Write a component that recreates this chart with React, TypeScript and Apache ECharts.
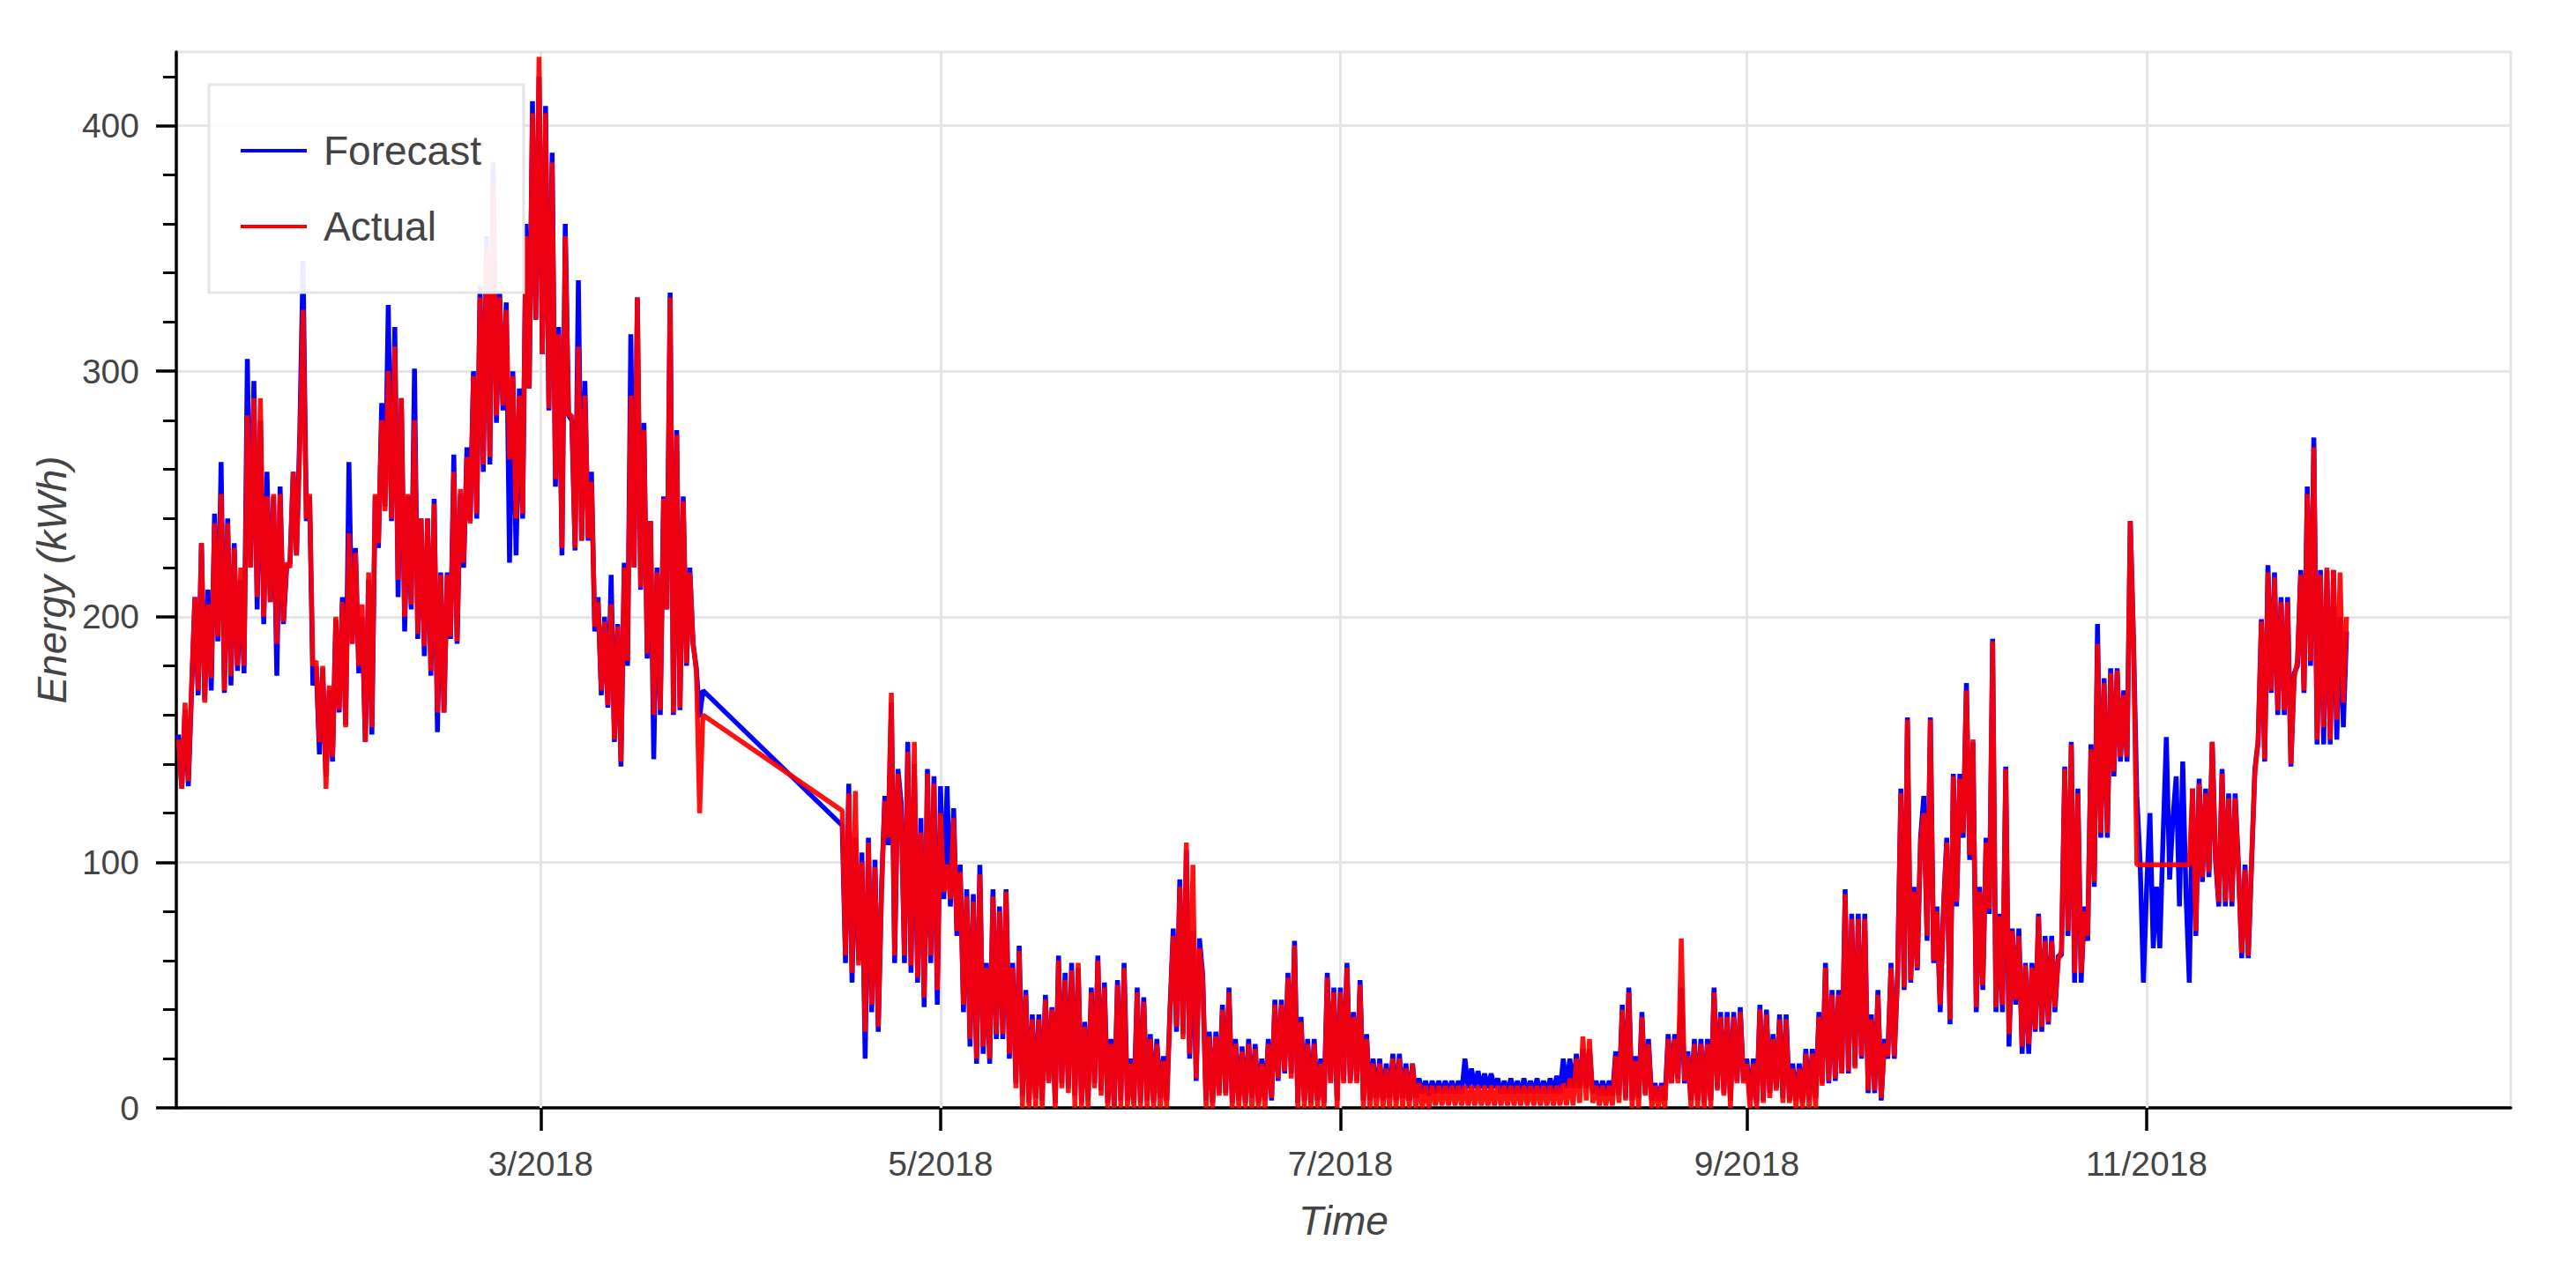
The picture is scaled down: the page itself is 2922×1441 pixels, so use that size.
import React, { useEffect, useRef } from "react";
import * as echarts from "echarts";

// ---- time layout of the readings (12-hourly readings) ----
const STEP_MS = 12 * 3600 * 1000;
const SEG1_START = Date.UTC(2018, 0, 4, 18); // first block: Jan 4 18:00 .. Mar 25 18:00
const SEG2_START = Date.UTC(2018, 3, 16, 0); // second block: Apr 16 00:00 .. Dec 2 12:00

// ---- Forecast, block 1 ----
const FORECAST_SEG1 = [
  152, 130, 162, 131, 170, 208, 168, 230, 166, 211,
  170, 242, 190, 263, 169, 240, 172, 230, 178, 215,
  177, 305, 220, 296, 203, 280, 197, 259, 206, 249,
  176, 253, 197, 220, 222, 259, 225, 275, 345, 239,
  249, 172, 180, 144, 179, 135, 170, 141, 199, 161,
  208, 156, 263, 189, 228, 177, 200, 149, 215, 152,
  249, 228, 287, 245, 327, 239, 318, 208, 289, 194,
  249, 203, 301, 191, 240, 184, 240, 176, 248, 153,
  218, 161, 218, 191, 266, 189, 250, 220, 269, 239,
  300, 240, 335, 259, 355, 262, 385, 279, 332, 284,
  328, 222, 300, 225, 293, 240, 360, 293, 410, 321,
  420, 307, 408, 284, 389, 253, 318, 225, 360, 282,
  280, 227, 337, 231, 296, 231, 259, 194, 208, 168,
  200, 163, 217, 149, 197, 139, 222, 180, 315, 220,
  330, 211, 279, 183, 239, 142, 220, 160, 249, 203,
  332, 160, 276, 162, 249, 180, 220, 189, 179, 159,
  170,
];

// ---- Actual, block 1 ----
const ACTUAL_SEG1 = [
  150, 130, 165, 133, 172, 208, 170, 230, 165, 205,
  175, 238, 192, 250, 170, 238, 176, 228, 180, 220,
  180, 282, 220, 289, 208, 289, 200, 249, 206, 250,
  189, 250, 198, 222, 220, 259, 225, 268, 325, 240,
  250, 180, 182, 149, 180, 130, 172, 143, 200, 162,
  206, 155, 234, 189, 226, 180, 205, 149, 218, 155,
  250, 230, 280, 243, 300, 240, 310, 215, 289, 200,
  250, 205, 280, 193, 240, 188, 240, 178, 246, 161,
  217, 161, 217, 192, 259, 190, 252, 222, 265, 238,
  298, 242, 330, 262, 350, 265, 375, 282, 330, 286,
  325, 264, 298, 240, 290, 242, 355, 293, 405, 321,
  428, 307, 405, 285, 385, 256, 315, 228, 355, 282,
  282, 228, 310, 231, 290, 232, 255, 196, 206, 170,
  198, 164, 205, 150, 196, 141, 220, 182, 290, 220,
  330, 212, 276, 185, 239, 160, 218, 162, 248, 203,
  330, 161, 274, 163, 247, 181, 218, 189, 178, 120,
  160,
];

// ---- Forecast, block 2 ----
const FORECAST_SEG2 = [
  115, 59, 132, 51, 110, 60, 104, 20, 110, 39,
  101, 31, 90, 127, 107, 165, 59, 138, 124, 59,
  149, 55, 140, 51, 118, 41, 138, 59, 135, 42,
  131, 85, 131, 82, 122, 70, 99, 39, 89, 25,
  87, 18, 99, 22, 59, 18, 89, 28, 82, 28,
  89, 20, 59, 10, 66, 5, 48, 2, 38, 4,
  38, 3, 46, 11, 41, 2, 62, 10, 55, 8,
  59, 5, 57, 2, 35, 3, 49, 10, 62, 7,
  51, 2, 28, 0, 52, 3, 59, 3, 20, 2,
  49, 2, 45, 3, 30, 2, 28, 4, 21, 3,
  40, 73, 31, 93, 30, 105, 20, 72, 11, 69,
  54, 3, 31, 2, 31, 6, 42, 6, 49, 2,
  28, 3, 25, 2, 28, 4, 26, 2, 20, 3,
  28, 3, 44, 11, 44, 14, 55, 14, 68, 2,
  37, 3, 28, 2, 28, 3, 20, 2, 55, 11,
  49, 3, 49, 11, 59, 11, 39, 11, 52, 3,
  30, 3, 20, 4, 20, 3, 18, 4, 22, 3,
  22, 4, 18, 3, 18, 4, 12, 6, 11, 5,
  11, 6, 11, 6, 11, 6, 11, 6, 11, 6,
  20, 8, 16, 8, 15, 8, 14, 8, 14, 8,
  12, 6, 11, 6, 12, 6, 11, 6, 12, 6,
  11, 6, 12, 6, 11, 6, 12, 6, 13, 6,
  20, 8, 20, 8, 22, 8, 24, 8, 24, 6,
  11, 5, 11, 5, 11, 5, 23, 5, 42, 4,
  49, 3, 21, 4, 39, 6, 28, 3, 10, 3,
  10, 3, 30, 10, 30, 12, 49, 10, 23, 3,
  28, 3, 28, 2, 28, 3, 49, 8, 39, 6,
  39, 3, 39, 11, 41, 11, 20, 3, 20, 2,
  42, 3, 40, 6, 30, 8, 38, 4, 38, 3,
  18, 3, 18, 2, 24, 3, 24, 4, 39, 10,
  59, 10, 48, 11, 48, 14, 89, 14, 79, 17,
  79, 20, 79, 6, 38, 6, 48, 3, 28, 20,
  59, 20, 55, 130, 48, 159, 51, 90, 56, 110,
  127, 68, 159, 59, 82, 39, 82, 110, 34, 136,
  82, 136, 110, 173, 101, 149, 39, 90, 48, 110,
  79, 191, 39, 79, 39, 139, 25, 73, 42, 73,
  22, 59, 22, 59, 31, 79, 31, 70, 34, 70,
  39, 62, 62, 139, 70, 149, 51, 130, 51, 82,
  68, 148, 90, 197, 110, 175, 110, 179, 135, 179,
  141, 170, 141, 239, 189, 127, 100, 51, 90, 120,
  65, 90, 65, 110, 151, 93, 118, 135, 82, 141,
  87, 51, 130, 70, 134, 92, 130, 94, 149, 101,
  82, 138, 82, 128, 82, 128, 99, 61, 99, 61,
  99, 138, 149, 199, 141, 221, 169, 218, 160, 208,
  160, 208, 139, 177, 180, 219, 169, 253, 180, 273,
  148, 219, 148, 219, 148, 219, 150, 200, 155, 194,
];

// ---- Actual, block 2 ----
const ACTUAL_SEG2 = [
  121, 62, 128, 55, 129, 58, 100, 31, 108, 42,
  98, 33, 88, 125, 110, 169, 62, 136, 118, 62,
  145, 58, 149, 53, 112, 45, 136, 62, 132, 48,
  120, 88, 99, 85, 118, 72, 96, 42, 86, 28,
  84, 20, 95, 25, 57, 20, 86, 30, 80, 30,
  88, 22, 57, 8, 64, 0, 46, 0, 36, 0,
  36, 0, 44, 10, 40, 0, 60, 8, 52, 6,
  56, 0, 59, 0, 33, 0, 47, 8, 60, 5,
  49, 0, 26, 0, 50, 0, 57, 0, 18, 0,
  47, 0, 43, 0, 28, 0, 26, 0, 19, 0,
  38, 70, 33, 90, 28, 108, 22, 99, 12, 65,
  52, 0, 29, 0, 29, 5, 40, 5, 47, 0,
  26, 0, 23, 0, 26, 0, 24, 0, 18, 0,
  26, 4, 42, 12, 42, 15, 53, 12, 66, 0,
  35, 0, 26, 0, 26, 0, 18, 0, 53, 10,
  47, 0, 47, 10, 57, 10, 37, 10, 50, 0,
  28, 0, 18, 0, 18, 0, 16, 0, 20, 0,
  20, 0, 16, 0, 18, 0, 10, 0, 9, 0,
  9, 1, 9, 1, 9, 1, 9, 1, 9, 1,
  9, 1, 9, 1, 9, 1, 9, 1, 9, 1,
  9, 1, 9, 1, 9, 1, 9, 1, 9, 1,
  9, 1, 9, 1, 9, 1, 9, 1, 9, 1,
  10, 1, 12, 1, 20, 2, 29, 3, 28, 2,
  9, 1, 9, 1, 9, 1, 21, 2, 40, 3,
  47, 0, 19, 0, 37, 5, 26, 0, 9, 0,
  9, 0, 28, 10, 28, 10, 69, 11, 21, 0,
  26, 0, 26, 0, 26, 0, 47, 7, 37, 5,
  37, 0, 37, 10, 39, 10, 18, 0, 18, 0,
  40, 2, 38, 4, 28, 7, 36, 2, 36, 2,
  16, 0, 16, 0, 22, 0, 22, 0, 37, 9,
  57, 11, 46, 12, 46, 14, 87, 15, 77, 16,
  77, 21, 77, 7, 36, 7, 46, 4, 26, 21,
  57, 21, 53, 128, 49, 158, 52, 88, 57, 108,
  120, 70, 158, 60, 80, 42, 80, 108, 36, 135,
  84, 134, 112, 170, 103, 150, 41, 88, 50, 108,
  81, 190, 41, 78, 42, 138, 30, 72, 44, 70,
  25, 58, 26, 57, 32, 78, 33, 68, 35, 68,
  41, 60, 64, 138, 72, 148, 55, 128, 55, 80,
  70, 146, 92, 189, 112, 173, 112, 177, 137, 178,
  143, 168, 143, 239, 189, 99, 99, 99, 99, 99,
  99, 99, 99, 99, 99, 99, 99, 99, 99, 99,
  99, 99, 130, 72, 132, 94, 128, 96, 149, 103,
  84, 136, 84, 126, 84, 126, 97, 63, 97, 62,
  101, 136, 150, 198, 142, 218, 170, 216, 162, 206,
  162, 206, 140, 175, 182, 217, 170, 250, 182, 269,
  150, 217, 155, 220, 150, 219, 158, 218, 165, 200,
];

// ---- axes ----
const X_MIN = Date.UTC(2018, 0, 4, 10);
const X_MAX = Date.UTC(2018, 11, 26, 13);
const MONTH_TICKS = [
  Date.UTC(2018, 2, 1),
  Date.UTC(2018, 4, 1),
  Date.UTC(2018, 6, 1),
  Date.UTC(2018, 8, 1),
  Date.UTC(2018, 10, 1),
];
const Y_MAX = 430;
const Y_MAJOR_TICKS = [0, 100, 200, 300, 400];
const Y_MINOR_TICKS = [20, 40, 60, 80, 120, 140, 160, 180, 220, 240, 260, 280, 320, 340, 360, 380, 420];

const SERIES_NAMES = ["Forecast", "Actual"];
const FONT = "'Liberation Sans', Arial, Helvetica, sans-serif";
const TEXT_COLOR = "#444444";
const GRID_COLOR = "#e5e5e5";

function toPairs(start: number, values: number[]) {
  return values.map((v, i) => [start + i * STEP_MS, v]);
}

function monthLabel(v: number) {
  const d = new Date(v);
  return `${d.getUTCMonth() + 1}/${d.getUTCFullYear()}`;
}

export default function App() {
  const ref = useRef<HTMLDivElement | null>(null);

  useEffect(() => {
    document.body.style.margin = "0";
    if (!ref.current) return;
    const chart = echarts.init(ref.current, undefined, { renderer: "svg" });

    const forecast = [...toPairs(SEG1_START, FORECAST_SEG1), ...toPairs(SEG2_START, FORECAST_SEG2)];
    const actual = [...toPairs(SEG1_START, ACTUAL_SEG1), ...toPairs(SEG2_START, ACTUAL_SEG2)];

    chart.setOption({
      animation: false,
      backgroundColor: "#ffffff",
      grid: {
        left: 200,
        right: 74,
        top: 59,
        bottom: 184,
        show: true,
        borderColor: GRID_COLOR,
        borderWidth: 3,
        backgroundColor: "transparent",
      },
      legend: {
        data: [
          { name: SERIES_NAMES[0], itemStyle: { color: "#0000ff", opacity: 1 } },
          { name: SERIES_NAMES[1], itemStyle: { color: "#ff0000", opacity: 1 } },
        ],
        orient: "vertical",
        left: 237,
        top: 96,
        icon: "rect",
        itemWidth: 75,
        itemHeight: 4,
        itemGap: 40,
        padding: [52, 48, 52, 36],
        backgroundColor: "rgba(255,255,255,0.93)",
        borderColor: GRID_COLOR,
        borderWidth: 3,
        borderRadius: 0,
        selectedMode: false,
        textStyle: {
          fontSize: 46,
          color: TEXT_COLOR,
          fontFamily: FONT,
          padding: [0, 0, 0, 14],
        },
      },
      xAxis: {
        type: "value",
        min: X_MIN,
        max: X_MAX,
        axisLine: { show: true, onZero: false, lineStyle: { color: "#000000", width: 3.5 } },
        axisTick: {
          show: true,
          customValues: MONTH_TICKS,
          length: 26,
          lineStyle: { color: "#000000", width: 3.5 },
        },
        axisLabel: {
          customValues: MONTH_TICKS,
          formatter: (v: number) => monthLabel(v),
          fontSize: 39,
          color: TEXT_COLOR,
          fontFamily: FONT,
          margin: 44,
        },
        splitLine: { show: false },
        name: "Time",
        nameLocation: "middle",
        nameGap: 105,
        nameTextStyle: { fontSize: 46, fontStyle: "italic", color: TEXT_COLOR, fontFamily: FONT },
      },
      yAxis: [
        {
          type: "value",
          min: 0,
          max: Y_MAX,
          interval: 100,
          axisLine: { show: true, lineStyle: { color: "#000000", width: 3.5 } },
          axisTick: {
            show: true,
            customValues: Y_MAJOR_TICKS,
            length: 23,
            lineStyle: { color: "#000000", width: 3.5 },
          },
          axisLabel: {
            customValues: Y_MAJOR_TICKS,
            fontSize: 39,
            color: TEXT_COLOR,
            fontFamily: FONT,
            margin: 42,
          },
          splitLine: { show: true, lineStyle: { color: GRID_COLOR, width: 3 } },
          name: "Energy (kWh)",
          nameLocation: "middle",
          nameGap: 118,
          nameRotate: 90,
          nameTextStyle: { fontSize: 46, fontStyle: "italic", color: TEXT_COLOR, fontFamily: FONT },
        },
        {
          type: "value",
          min: 0,
          max: Y_MAX,
          position: "left",
          axisLine: { show: false },
          axisTick: {
            show: true,
            customValues: Y_MINOR_TICKS,
            length: 15,
            lineStyle: { color: "#000000", width: 3 },
          },
          axisLabel: { show: false },
          splitLine: { show: false },
        },
      ],
      series: [
        {
          name: SERIES_NAMES[0],
          type: "line",
          data: forecast,
          yAxisIndex: 0,
          showSymbol: false,
          symbol: "none",
          color: "#0000ff",
          lineStyle: { color: "#0000ff", width: 5.5 },
          z: 2,
          markLine: {
            silent: true,
            z: 1,
            symbol: ["none", "none"],
            label: { show: false },
            lineStyle: { color: GRID_COLOR, width: 3, type: "solid" },
            data: MONTH_TICKS.map((t) => ({ xAxis: t })),
          },
        },
        {
          name: SERIES_NAMES[1],
          type: "line",
          data: actual,
          yAxisIndex: 0,
          showSymbol: false,
          symbol: "none",
          color: "#ff0000",
          lineStyle: { color: "#ff0000", width: 5.5, opacity: 0.93 },
          z: 3,
        },
      ],
    });

    return () => {
      chart.dispose();
    };
  }, []);

  return <div ref={ref} style={{ width: 2922, height: 1441 }} />;
}
